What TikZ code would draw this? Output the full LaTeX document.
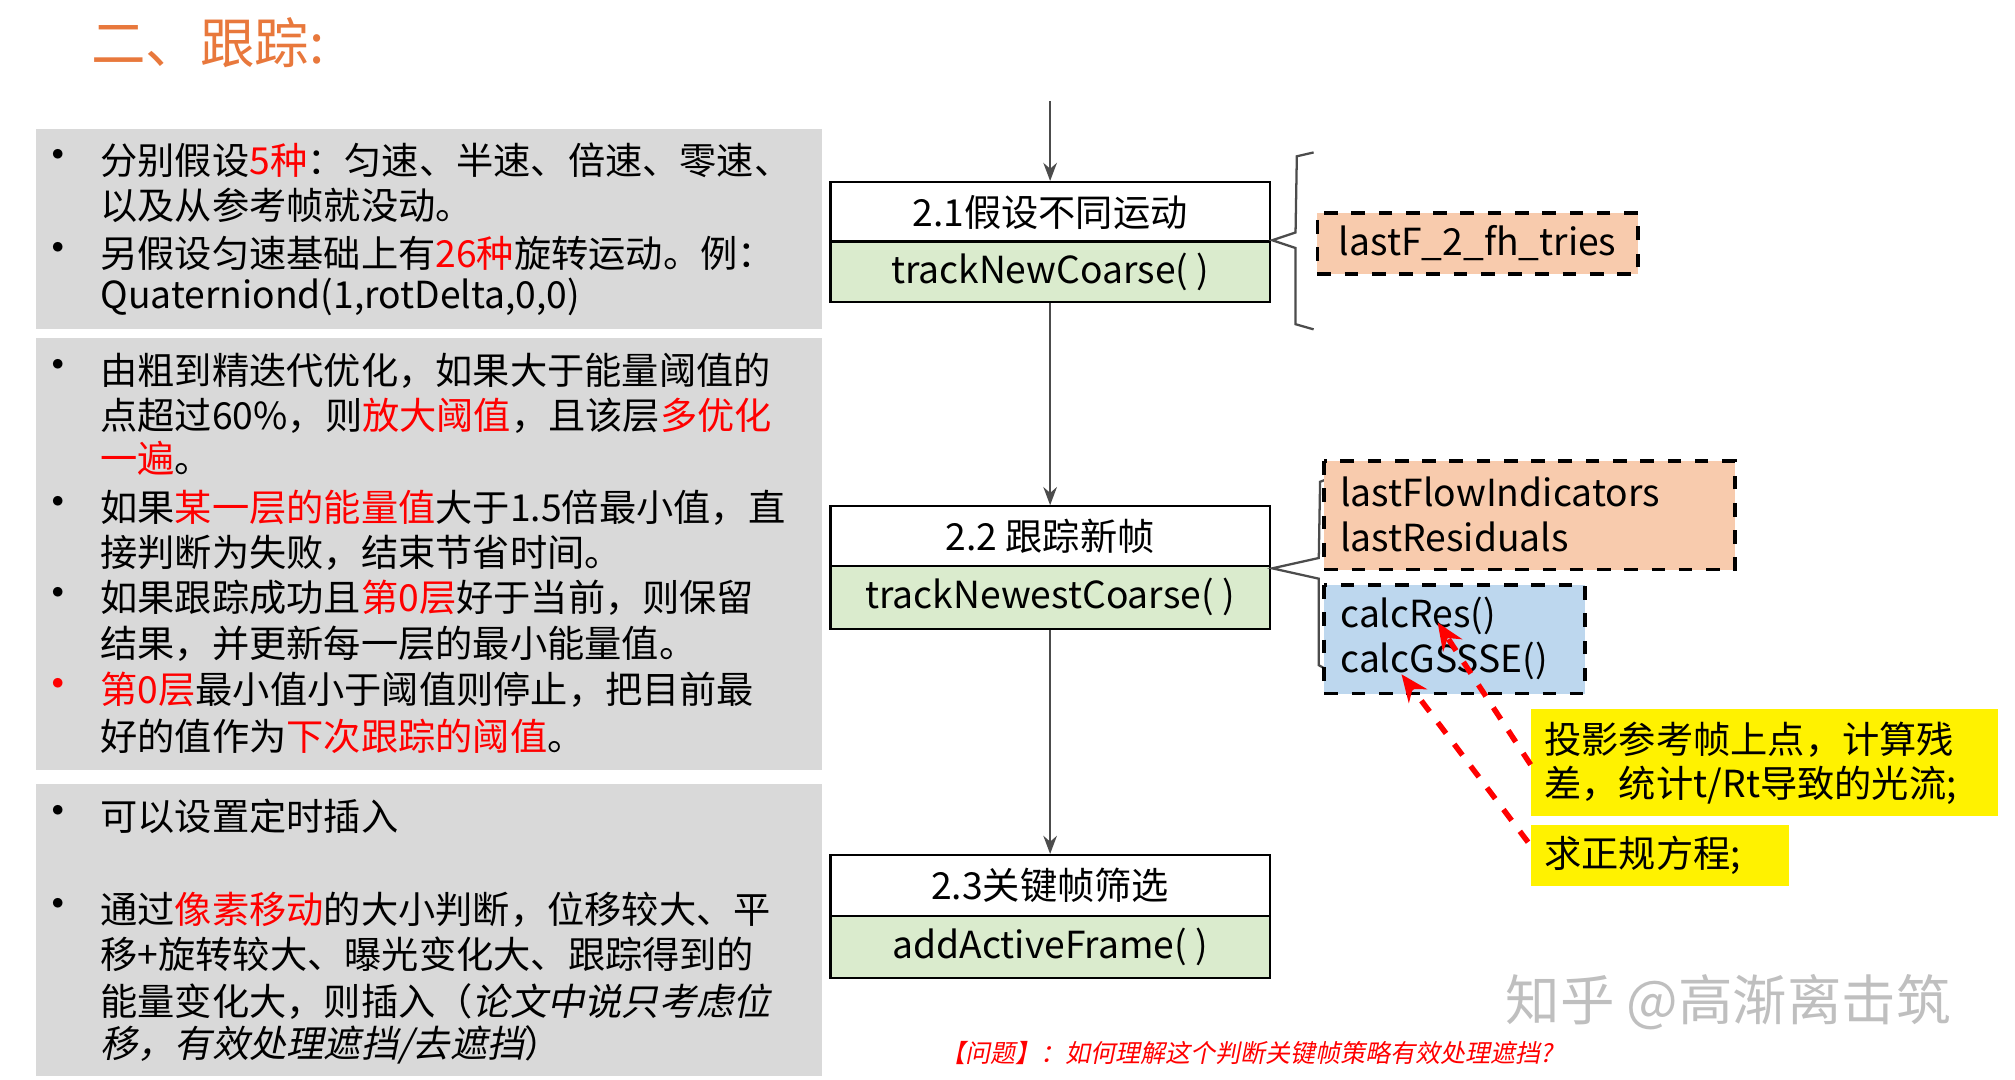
\documentclass[tikz,border=0pt]{standalone}
\usepackage{fontspec}
\newfontfamily\cjk{Noto Sans CJK SC}
\newfontfamily\cjkit{Noto Sans CJK SC}[FakeSlant=0.2]
\usetikzlibrary{arrows.meta}
\definecolor{ttl}{RGB}{232,120,60}
\definecolor{gbox}{RGB}{217,217,217}
\definecolor{grn}{RGB}{218,235,205}
\definecolor{org}{RGB}{248,203,173}
\definecolor{blu}{RGB}{189,215,238}
\definecolor{rd}{RGB}{255,0,0}
\newcommand{\R}[1]{\textcolor{rd}{#1}}
\tikzset{
 txt/.style={anchor=west, inner sep=0, font=\cjk\fontsize{8.2}{10}\selectfont},
 bul/.style={anchor=center, inner sep=0, font=\cjk\fontsize{10}{10}\selectfont},
 tbox/.style={draw, fill=white, line width=0.5pt, inner sep=0, font=\cjk\fontsize{8.2}{10}\selectfont},
 gbx/.style={draw, fill=grn, line width=0.5pt, inner sep=0, font=\cjk\fontsize{8.2}{10}\selectfont},
 dbox/.style={draw, dashed, line width=0.8pt},
 arr/.style={-{Stealth[length=4pt,width=3pt]}, line width=0.4pt, draw=black!70},
 rarr/.style={-{Stealth[length=6pt,width=5pt]}, dashed, line width=1.2pt, draw=rd},
}
\begin{document}
\begin{tikzpicture}[x=0.01cm,y=-0.01cm]
\useasboundingbox (0,0) rectangle (1560,836);
\node[anchor=west, inner sep=0, text=ttl, font=\cjk\fontsize{12}{14}\selectfont] (title) at (70,33) {二、跟踪:};
% gray boxes
\fill[gbox] (28,100) rectangle (636,255);
\fill[gbox] (28,262) rectangle (636,596);
\fill[gbox] (28,607) rectangle (636,833);
% box1
\foreach \y in {124,196} \node[bul] at (45,\y) {•};
\node[txt] (a1) at (77,124) {分别假设\R{5种}：匀速、半速、倍速、零速、};
\node[txt] (a2) at (77,159) {以及从参考帧就没动。};
\node[txt] (a3) at (77,196) {另假设匀速基础上有\R{26种}旋转运动。例：};
\node[txt] (a4) at (77,230) {Quaterniond(1,rotDelta,0,0)};
% box2
\foreach \y in {287,393,463} \node[bul] at (45,\y) {•};
\node[bul,text=rd] at (45,534) {•};
\node[txt] (b1) at (77,287) {由粗到精迭代优化，如果大于能量阈值的};
\node[txt] (b2) at (77,322) {点超过60\%，则\R{放大阈值}，且该层\R{多优化}};
\node[txt] (b3) at (77,355) {\R{一遍}。};
\node[txt] (b4) at (77,393) {如果\R{某一层的能量值}大于1.5倍最小值，直};
\node[txt] (b5) at (77,428) {接判断为失败，结束节省时间。};
\node[txt] (b6) at (77,463) {如果跟踪成功且\R{第0层}好于当前，则保留};
\node[txt] (b7) at (77,498) {结果，并更新每一层的最小能量值。};
\node[txt] (b8) at (77,534) {\R{第0层}最小值小于阈值则停止，把目前最};
\node[txt] (b9) at (77,570) {好的值作为\R{下次跟踪的阈值}。};
% box3
\foreach \y in {632,704} \node[bul] at (45,\y) {•};
\node[txt] (c1) at (77,632) {可以设置定时插入};
\node[txt] (c2) at (77,704) {通过\R{像素移动}的大小判断，位移较大、平};
\node[txt] (c3) at (77,739) {移+旋转较大、曝光变化大、跟踪得到的};
\node[txt] (c4) at (77,775) {能量变化大，则插入（{\cjkit 论文中说只考虑位}};
\node[txt] (c5) at (77,809) {{\cjkit 移，有效处理遮挡/去遮挡}）};
% center boxes
\node[tbox, minimum width=3.4cm, minimum height=0.47cm] (t1) at (813,164.5) {2.1假设不同运动};
\node[gbx, minimum width=3.4cm, minimum height=0.47cm] (g1) at (813,210.5) {trackNewCoarse( )};
\node[tbox, minimum width=3.4cm, minimum height=0.46cm] (t2) at (813,415) {2.2 跟踪新帧};
\node[gbx, minimum width=3.4cm, minimum height=0.49cm] (g2) at (813,462.5) {trackNewestCoarse( )};
\node[tbox, minimum width=3.4cm, minimum height=0.47cm] (t3) at (813,685.5) {2.3关键帧筛选};
\node[gbx, minimum width=3.4cm, minimum height=0.48cm] (g3) at (813,733) {addActiveFrame( )};
\coordinate (top) at (813,78);
\draw[arr] (top) -- (t1.north);
\draw[arr] (g1.south) -- (t2.north);
\draw[arr] (g2.south) -- (t3.north);
% brackets
\draw[line width=0.5pt, black!70] (1017,118) -- (1004,121) -- (1003,180) -- (985,186) -- (1003,192) -- (1003,251) -- (1017,255);
\draw[line width=0.5pt, black!70] (1030,370) -- (1022,373) -- (1021,432) -- (985,440) -- (1021,448) -- (1021,515) -- (1030,520);
% right boxes
\node[dbox, fill=org, minimum width=2.48cm, minimum height=0.47cm, txt, anchor=center, inner sep=0] (lf) at (1144,188.5) {lastF\_2\_fh\_tries};
\draw[dbox, fill=org] (1025,357) rectangle (1343,441);
\node[txt] (lfi) at (1037,381) {lastFlowIndicators};
\node[txt] (lr) at (1037,416) {lastResiduals};
\draw[dbox, fill=blu] (1025,453) rectangle (1227,537);
\node[txt] (cr) at (1037,477) {calcRes()};
\node[txt] (cg) at (1037,512) {calcGSSSE()};
% yellow
\fill[yellow] (1185,549) rectangle (1547,632);
\node[txt] (y1) at (1195,573) {投影参考帧上点，计算残};
\node[txt] (y2) at (1195,608) {差，统计t/Rt导致的光流;};
\fill[yellow] (1185,639) rectangle (1385,686);
\node[txt] (y3) at (1195,662) {求正规方程;};
\coordinate (s1) at (1185,592);
\coordinate (e1) at (1113,482);
\coordinate (s2) at (1183,652);
\coordinate (e2) at (1085,522);
\draw[rarr] (s1) -- (e1);
\draw[rarr] (s2) -- (e2);
% bottom
\node[anchor=center, inner sep=0, text=rd, font=\cjkit\fontsize{5.5}{6}\selectfont] (q) at (965,815) {【问题】：如何理解这个判断关键帧策略有效处理遮挡?};
\node[anchor=center, inner sep=0, text=black!25, font=\cjk\fontsize{12}{14}\selectfont] (wm) at (1338,776) {知乎 @高渐离击筑};
\end{tikzpicture}
\end{document}
